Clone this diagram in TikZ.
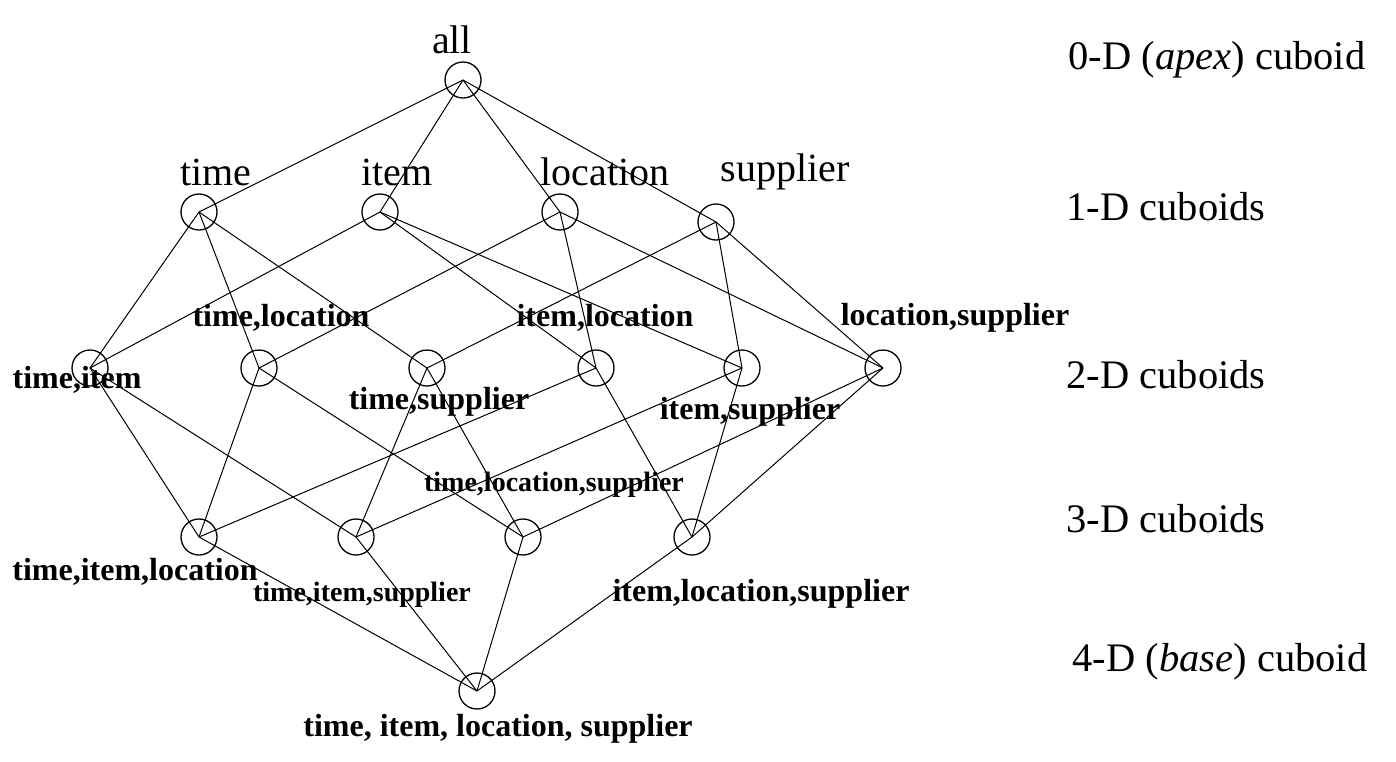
\documentclass[tikz,border=0pt]{standalone}
\usepackage{fontspec}
\setmainfont{Liberation Serif}
\begin{document}
\begin{tikzpicture}[x=1pt,y=-1pt,
  cub/.style={circle,draw,line width=1.3pt,minimum size=36pt,inner sep=0pt},
  big/.style={font=\fontsize{40}{44}\selectfont},
  lab/.style={font=\fontsize{32}{34}\selectfont\bfseries},
  sml/.style={font=\fontsize{28}{30}\selectfont\bfseries},
  lvl/.style={font=\fontsize{40.5}{44}\selectfont}]
\useasboundingbox (0,0) rectangle (1396,761);
\coordinate (A) at (463,80);
\coordinate (T) at (199,212);
\coordinate (I) at (380,212);
\coordinate (L) at (560,212);
\coordinate (S) at (716,222);
\coordinate (TI) at (90,368);
\coordinate (TL) at (259,368);
\coordinate (TS) at (427,368);
\coordinate (IL) at (596,368);
\coordinate (IS) at (742,368);
\coordinate (LS) at (883,368);
\coordinate (TIL) at (199,537);
\coordinate (TIS) at (356,537);
\coordinate (TLS) at (523,537);
\coordinate (ILS) at (692,537);
\coordinate (B) at (477,691);
\foreach \n in {A,T,I,L,S,TI,TL,TS,IL,IS,LS,TIL,TIS,TLS,ILS,B}
  \node[cub] (c\n) at (\n) {};
\foreach \a/\b in {A/T,A/I,A/L,A/S,
  T/TI,T/TL,T/TS,I/TI,I/IL,I/IS,L/TL,L/IL,L/LS,S/TS,S/IS,S/LS,
  TI/TIL,TI/TIS,TL/TIL,TL/TLS,TS/TIS,TS/TLS,IL/TIL,IL/ILS,IS/TIS,IS/ILS,LS/TLS,LS/ILS,
  TIL/B,TIS/B,TLS/B,ILS/B}
  \draw[line width=1pt] (\a) -- (\b);
\node[big] (lA) at (452,40) {all};
\node[big] (lT) at (216,172) {time};
\node[big] (lI) at (397,172) {item};
\node[big] (lL) at (605,172) {location};
\node[big] (lS) at (785,172) {supplier};
\node[lab] (lTL) at (281,318) {time,location};
\node[lab] (lIL) at (605,318) {item,location};
\node[lab] (lLS) at (955,318) {location,supplier};
\node[lab] (lTI) at (77,380) {time,item};
\node[lab] (lTS) at (439,402) {time,supplier};
\node[lab] (lIS) at (750,412) {item,supplier};
\node[sml] (lTLS) at (554,485) {time,location,supplier};
\node[lab] (lTIL) at (135,572) {time,item,location};
\node[sml] (lTIS) at (362,595) {time,item,supplier};
\node[lab] (lILS) at (761,594) {item,location,supplier};
\node[lab] (lB) at (498,729) {time, item, location, supplier};
\node[lvl] (r0) at (1217,60) {0-D (\textit{apex}) cuboid};
\node[lvl] (r1) at (1166,207) {1-D cuboids};
\node[lvl] (r2) at (1166,375) {2-D cuboids};
\node[lvl] (r3) at (1166,519) {3-D cuboids};
\node[lvl] (r4) at (1220,662) {4-D (\textit{base}) cuboid};
\end{tikzpicture}
\end{document}
